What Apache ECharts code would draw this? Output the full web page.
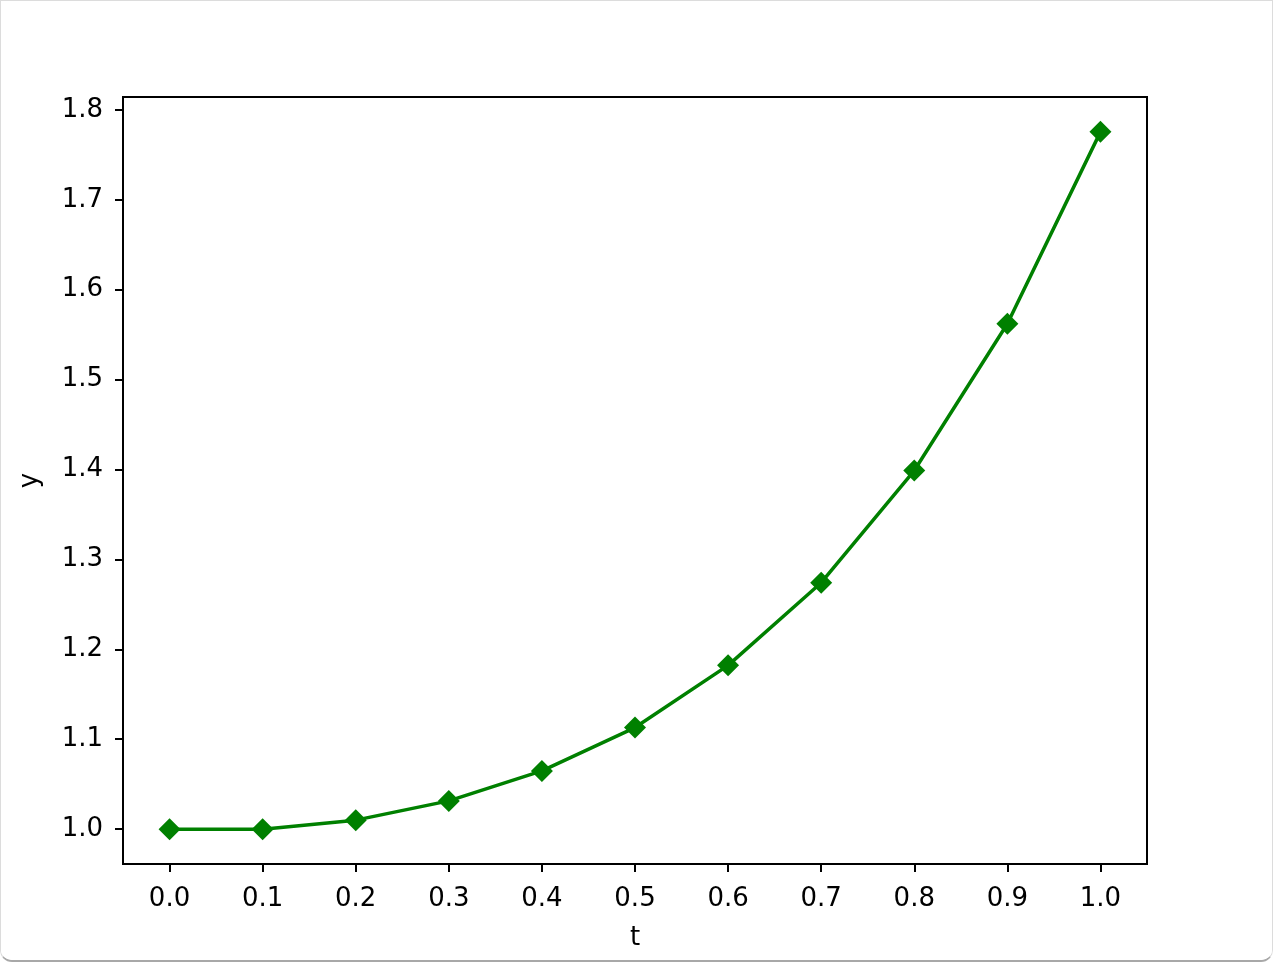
<!DOCTYPE html>
<html>
<head>
<meta charset="utf-8">
<script src="https://cdn.jsdelivr.net/npm/echarts@6/dist/echarts.min.js"></script>
<style>
  html, body { margin: 0; padding: 0; background: #fff; }
  #frame { position: absolute; left: 0; top: 0; width: 1271px; height: 959px;
           border: 1px solid #dcdcdc; border-bottom: 2px solid #a8a8a8;
           border-radius: 0 0 12px 12px; overflow: hidden; background: #fff; }
  #chart { position: absolute; left: -1px; top: -1px; width: 1273px; height: 962px; }
</style>
</head>
<body>
<div id="frame"><div id="chart"></div></div>
<script>
const tValues = [0.0, 0.1, 0.2, 0.3, 0.4, 0.5, 0.6, 0.7, 0.8, 0.9, 1.0];
const yValues = [1.0, 1.0, 1.01, 1.0314, 1.0648, 1.113, 1.1822, 1.2741, 1.3989, 1.5622, 1.7756];
const xTicks = [0.0, 0.1, 0.2, 0.3, 0.4, 0.5, 0.6, 0.7, 0.8, 0.9, 1.0];
const yTicks = [1.0, 1.1, 1.2, 1.3, 1.4, 1.5, 1.6, 1.7, 1.8];

const xLo = Math.min(...tValues), xHi = Math.max(...tValues);
const yLo = Math.min(...yValues), yHi = Math.max(...yValues);
const xPad = 0.05 * (xHi - xLo), yPad = 0.05 * (yHi - yLo);

const font = 'DejaVu Sans';
const chart = echarts.init(document.getElementById('chart'), null, { renderer: 'canvas' });
chart.setOption({
  animation: false,
  backgroundColor: '#fff',
  grid: { left: 123, top: 97, right: 126, bottom: 98, show: true,
          borderColor: '#000', borderWidth: 2, backgroundColor: 'transparent' },
  xAxis: {
    type: 'value', min: xLo - xPad, max: xHi + xPad,
    name: 't', nameLocation: 'middle', nameGap: 61,
    nameTextStyle: { fontFamily: font, fontSize: 26, color: '#000' },
    axisLine: { show: true, onZero: false, lineStyle: { color: '#000', width: 2 } },
    axisTick: { show: true, length: 8, inside: false, customValues: xTicks,
                lineStyle: { color: '#000', width: 2 } },
    axisLabel: { customValues: xTicks, margin: 22, fontFamily: font, fontSize: 26, color: '#000',
                 formatter: v => v.toFixed(1) },
    splitLine: { show: false }
  },
  yAxis: {
    type: 'value', min: yLo - yPad, max: yHi + yPad,
    name: 'y', nameLocation: 'middle', nameGap: 80,
    nameTextStyle: { fontFamily: font, fontSize: 26, color: '#000' },
    axisLine: { show: true, onZero: false, lineStyle: { color: '#000', width: 2 } },
    axisTick: { show: true, length: 8, inside: false, customValues: yTicks,
                lineStyle: { color: '#000', width: 2 } },
    axisLabel: { customValues: yTicks, margin: 20, fontFamily: font, fontSize: 26, color: '#000',
                 formatter: v => v.toFixed(1) },
    splitLine: { show: false }
  },
  series: [{
    type: 'line',
    data: tValues.map((t, i) => [t, yValues[i]]),
    symbol: 'diamond', symbolSize: 22, showSymbol: true,
    lineStyle: { color: '#008000', width: 3.5 },
    itemStyle: { color: '#008000' },
    z: 3
  }]
});
</script>
</body>
</html>
